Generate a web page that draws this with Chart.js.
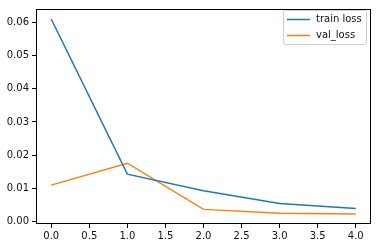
<!DOCTYPE html>
<html>
<head>
<meta charset="utf-8">
<script src="https://cdn.jsdelivr.net/npm/chart.js@4"></script>
<style>
  html, body { margin: 0; padding: 0; background: #fff; }
  #wrap { width: 378px; height: 248px; }
</style>
</head>
<body>
<div id="wrap"><canvas id="lossChart" width="378" height="248"></canvas></div>
<script>
// Data
const epochs = [0, 1, 2, 3, 4];
const trainLoss = [0.0610, 0.0143, 0.0093, 0.0055, 0.0040];
const valLoss = [0.0110, 0.0176, 0.0037, 0.0025, 0.0023];
const xTicks = [0.0, 0.5, 1.0, 1.5, 2.0, 2.5, 3.0, 3.5, 4.0];
const yTicks = [0.00, 0.01, 0.02, 0.03, 0.04, 0.05, 0.06];

const toPoints = (ys) => epochs.map((x, i) => ({ x: x, y: ys[i] }));

// frame round the plot + matplotlib-like legend box
const framePlugin = {
  id: 'frame',
  afterDraw(chart) {
    const { ctx, chartArea: a } = chart;
    ctx.save();
    ctx.strokeStyle = '#000';
    ctx.lineWidth = 1;
    ctx.strokeRect(a.left + 0.5, a.top + 0.5, a.right - a.left - 1, a.bottom - a.top - 1);

    // legend
    const bx = 283.5, by = 10.5, bw = 83, bh = 34;
    ctx.fillStyle = 'rgba(255,255,255,0.8)';
    ctx.strokeStyle = '#d0d0d0';
    ctx.beginPath();
    ctx.roundRect(bx, by, bw, bh, 2);
    ctx.fill();
    ctx.stroke();

    ctx.font = '10px "DejaVu Sans"';
    ctx.textBaseline = 'middle';
    ctx.textAlign = 'left';
    chart.data.datasets.forEach((ds, i) => {
      const y = 19.5 + i * 16;
      ctx.strokeStyle = ds.borderColor;
      ctx.lineWidth = 1.5;
      ctx.beginPath();
      ctx.moveTo(287, y);
      ctx.lineTo(310, y);
      ctx.stroke();
      ctx.fillStyle = '#111';
      ctx.fillText(ds.label, 316, y);
    });
    ctx.restore();
  }
};

const tickStyle = { color: '#111', font: { family: 'DejaVu Sans', size: 10 } };

new Chart(document.getElementById('lossChart').getContext('2d'), {
  type: 'line',
  data: {
    datasets: [
      {
        label: 'train loss',
        data: toPoints(trainLoss),
        borderColor: '#1f77b4',
        borderWidth: 1.5,
        pointRadius: 0,
        tension: 0,
        fill: false
      },
      {
        label: 'val_loss',
        data: toPoints(valLoss),
        borderColor: '#ff7f0e',
        borderWidth: 1.5,
        pointRadius: 0,
        tension: 0,
        fill: false
      }
    ]
  },
  options: {
    responsive: false,
    animation: false,
    layout: { padding: { top: 6, right: 7, left: 0, bottom: 0 } },
    plugins: {
      legend: { display: false },
      tooltip: { enabled: false }
    },
    scales: {
      x: {
        type: 'linear',
        min: -0.2,
        max: 4.2,
        afterBuildTicks: (scale) => { scale.ticks = xTicks.map(v => ({ value: v })); },
        afterFit: (scale) => { scale.height = 24; },
        ticks: Object.assign({ padding: 2, maxRotation: 0, callback: v => v.toFixed(1) }, tickStyle),
        grid: { drawOnChartArea: false, tickLength: 4, color: '#000' },
        border: { display: false }
      },
      y: {
        min: -0.0007,
        max: 0.064,
        afterBuildTicks: (scale) => { scale.ticks = yTicks.map(v => ({ value: v })); },
        afterFit: (scale) => { scale.width = 36; },
        ticks: Object.assign({ padding: 3, callback: v => v.toFixed(2) }, tickStyle),
        grid: { drawOnChartArea: false, tickLength: 4, color: '#000' },
        border: { display: false }
      }
    }
  },
  plugins: [framePlugin]
});
</script>
</body>
</html>
